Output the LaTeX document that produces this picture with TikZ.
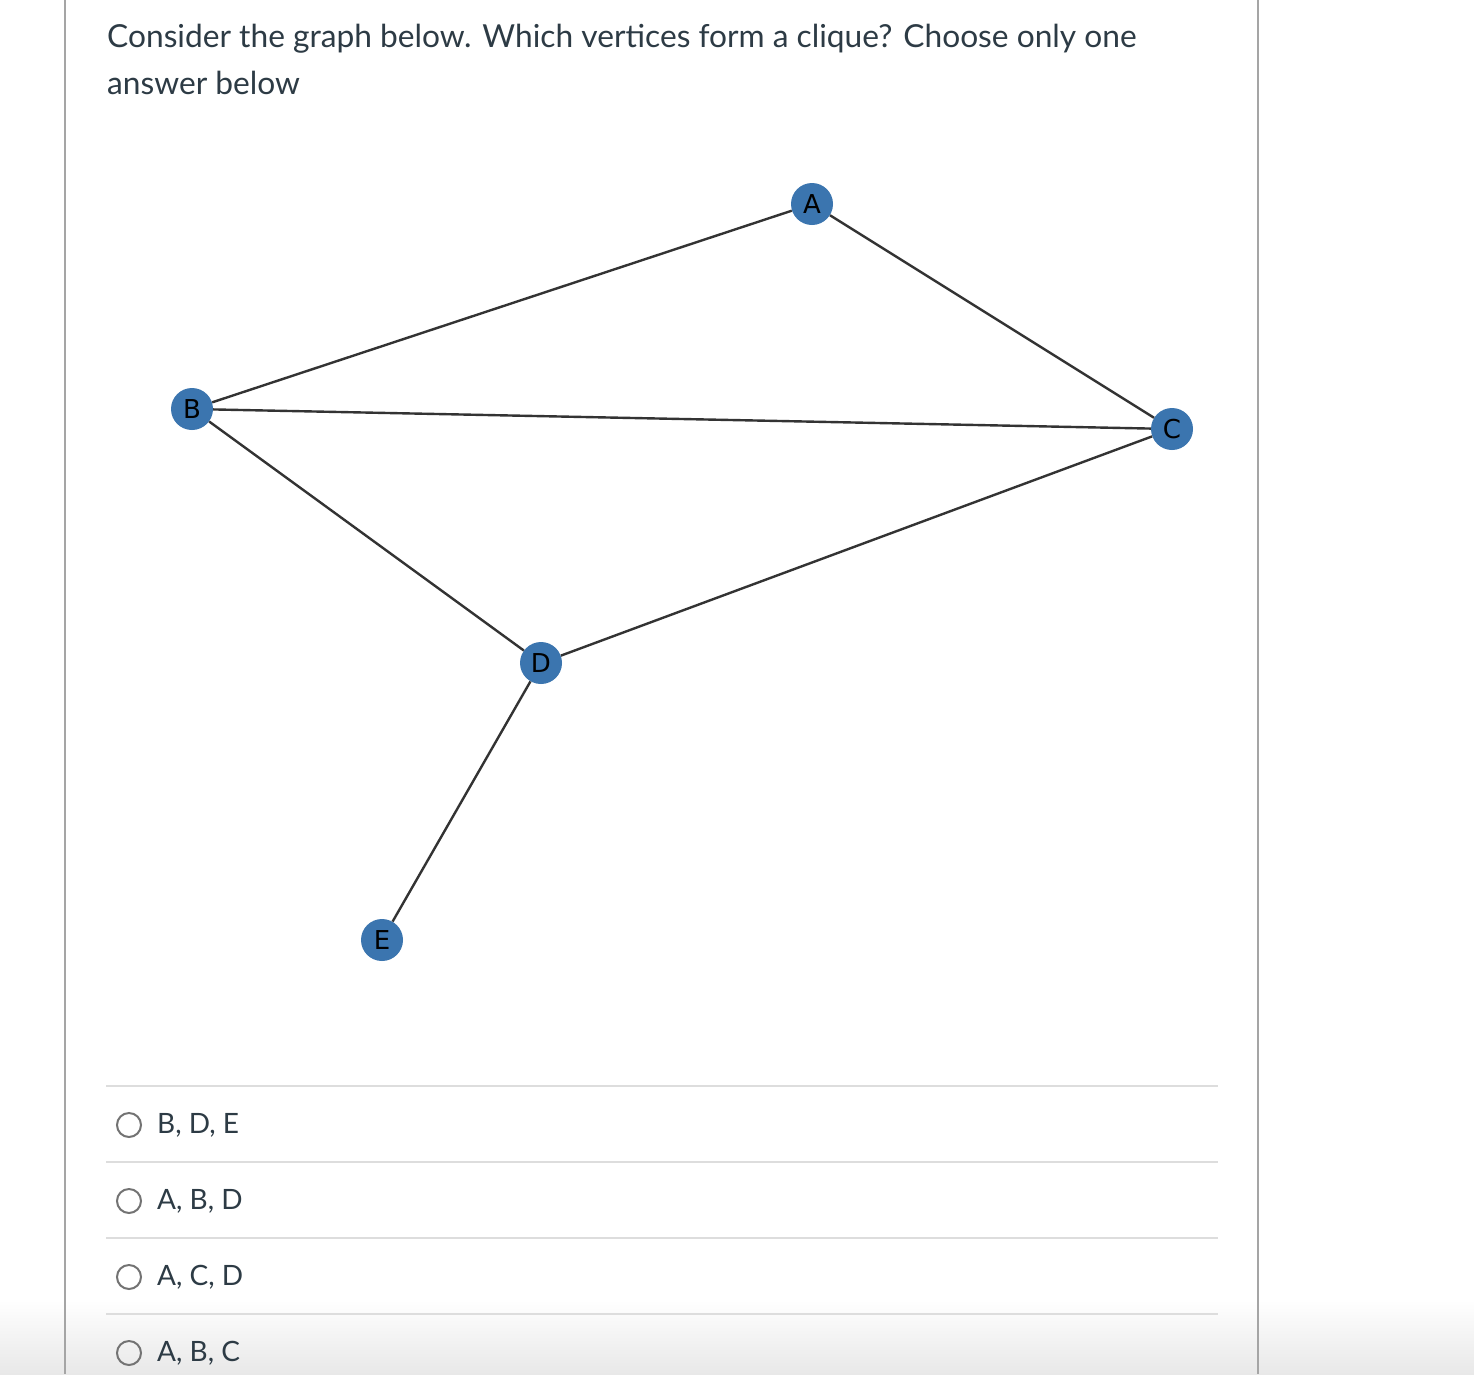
\documentclass[tikz,border=0pt]{standalone}
\usepackage{fontspec}
\setmainfont{Lato}
\newfontfamily\labelfont{DejaVu Sans}
\usetikzlibrary{positioning}

\definecolor{nodeblue}{RGB}{59,117,175}
\definecolor{textslate}{RGB}{45,59,69}
\definecolor{rulegray}{RGB}{221,221,221}
\definecolor{framegray}{RGB}{165,165,165}
\definecolor{fadegray}{RGB}{232,232,232}

\tikzset{
  vertex/.style={circle, fill=nodeblue, minimum size=42pt, inner sep=0pt, text=black,
    font=\labelfont\fontsize{26}{26}\selectfont},
  edge/.style={draw=black!80, line width=2.4pt},
  radio/.style={circle, draw=black!55, line width=2pt, minimum size=24pt, inner sep=0pt},
  choice/.style={anchor=base west, text=textslate, inner sep=0pt, font=\fontsize{28}{28}\selectfont},
  question/.style={anchor=base west, text=textslate, inner sep=0pt, font=\fontsize{31.7}{31.7}\selectfont}
}

\begin{document}
\begin{tikzpicture}[x=1pt, y=-1pt]
    \useasboundingbox[fill=white] (0,0) rectangle (1474,1374);

    % Fade at the bottom of the page
    \shade[top color=white, bottom color=fadegray] (0,1300) rectangle (1474,1374);

    % Frame of the question box
    \draw[framegray, line width=2pt] (65,0) -- (65,1374);
    \draw[framegray, line width=2pt] (1258,0) -- (1258,1374);

    % Question text
    \node[question] (q1) at (107,47) {Consider the graph below. Which vertices form a clique? Choose only one};
    \node[question] (q2) at ([yshift=-47pt]q1.base west) {answer below};

    % Vertices of the graph
    \node[vertex] (A) at (812,204) {A};
    \node[vertex] (B) at (192,409) {B};
    \node[vertex] (C) at (1172,429) {C};
    \node[vertex] (D) at (541,663) {D};
    \node[vertex] (E) at (382,940) {E};

    % Edges of the graph
    \draw[edge] (A) -- (B);
    \draw[edge] (A) -- (C);
    \draw[edge] (B) -- (C);
    \draw[edge] (B) -- (D);
    \draw[edge] (C) -- (D);
    \draw[edge] (D) -- (E);

    % Answer choices
    \foreach \txt [count=\i] in {{B, D, E}, {A, B, D}, {A, C, D}, {A, B, C}} {
        \coordinate (sep\i) at (106,1010+76*\i);
        \draw[rulegray, line width=2pt] (sep\i) -- ++(1112,0);
        \node[radio] (radio\i) at (129,1049+76*\i) {};
        \node[choice] (opt\i) at (157,1057+76*\i) {\txt};
    }
\end{tikzpicture}
\end{document}
